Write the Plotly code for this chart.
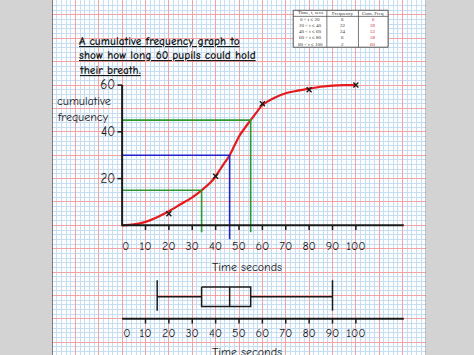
import plotly.graph_objects as go

# ---------------- data ----------------
curve_x = [0, 5, 10, 15, 20, 25, 30, 34, 38, 40, 42, 44, 46, 48, 50, 52, 55, 58, 60, 65, 70, 75, 80, 85, 90, 95, 100]
curve_y = [0, 0.4, 1.5, 3.5, 6, 9, 12, 15, 18.5, 21, 24, 27, 30, 34, 38, 41, 45, 49, 51.5, 54.5, 56.5, 57.6, 58.5, 59.3, 59.8, 60, 60]

mark_x = [20, 40, 60, 80, 100]
mark_y = [5, 21, 52, 58, 60]

lq, med, uq = 34, 46, 55
q_levels = [15, 30, 45]
box_min, box_max = 15, 90

x_ticks = [0, 10, 20, 30, 40, 50, 60, 70, 80, 90, 100]
y_ticks = [20, 40, 60]

title_lines = ["A cumulative frequency graph to",
               "show how long 60 pupils could hold",
               "their breath."]

tbl_header = ["Time, t, secs", "Frequency", "Cum. Freq"]
tbl_class = ["0 < t ≤ 20", "20 < t ≤ 40", "40 < t ≤ 60", "60 < t ≤ 80", "80 < t ≤ 100"]
tbl_freq = [6, 22, 24, 6, 2]
tbl_cum = [6, 28, 52, 58, 60]

# ---------------- styling ----------------
FONT = "Comic Sans MS, Comic Neue, Lato, sans-serif"
BLACK = "#1a1a1a"
RED = "#e41a1c"
GREEN = "#2e9a2e"
BLUE = "#2222cc"

fig = go.Figure()

# cumulative frequency curve
fig.add_trace(go.Scatter(x=curve_x, y=curve_y, mode="lines",
                         line=dict(color=RED, width=2.2, shape="spline", smoothing=0.8),
                         hoverinfo="skip"))

# quartile guide lines
colors = [GREEN, BLUE, GREEN]
qx = [lq, med, uq]
drops = [-3, -6, -3]
for xv, yv, c, d in zip(qx, q_levels, colors, drops):
    fig.add_trace(go.Scatter(x=[0, xv, xv], y=[yv, yv, d], mode="lines",
                             line=dict(color=c, width=1.6), hoverinfo="skip"))

# axes of the hand-drawn graph
fig.add_trace(go.Scatter(x=[0, 0, 120.5], y=[60, 0, 0], mode="lines",
                         line=dict(color=BLACK, width=2), hoverinfo="skip"))
for t in x_ticks[1:]:
    fig.add_trace(go.Scatter(x=[t, t], y=[0, -2], mode="lines",
                             line=dict(color=BLACK, width=1.5), hoverinfo="skip"))
for t in y_ticks:
    fig.add_trace(go.Scatter(x=[-2, 0], y=[t, t], mode="lines",
                             line=dict(color=BLACK, width=1.5), hoverinfo="skip"))

# plotted points
fig.add_trace(go.Scatter(x=mark_x, y=mark_y, mode="markers",
                         marker=dict(symbol="x-thin", size=5, line=dict(color=BLACK, width=1.4)),
                         hoverinfo="skip"))

# tick labels
fig.add_trace(go.Scatter(x=[t + (1.5 if t == 0 else 0) for t in x_ticks], y=[-9.3] * len(x_ticks),
                         mode="text", text=[str(t) for t in x_ticks],
                         textfont=dict(family=FONT, size=12, color=BLACK), hoverinfo="skip"))
fig.add_trace(go.Scatter(x=[-3] * len(y_ticks), y=[t - 0.4 for t in y_ticks], mode="text",
                         text=[str(t) for t in y_ticks], textposition="middle left",
                         textfont=dict(family=FONT, size=13, color=BLACK), hoverinfo="skip"))

# box plot
B = BLACK
cap_top, cap_bot = -23.5, -36.5
box_top, box_bot = -26.4, -34.7
mid = (box_top + box_bot) / 2
fig.add_trace(go.Scatter(x=[box_min, box_min, None, box_max, box_max, None,
                            box_min, lq, None, uq, box_max, None,
                            lq, uq, uq, lq, lq, None, med, med],
                         y=[cap_top, cap_bot, None, cap_top, cap_bot, None,
                            mid, mid, None, mid, mid, None,
                            box_top, box_top, box_bot, box_bot, box_top, None, box_top, box_bot],
                         mode="lines", line=dict(color=B, width=1.5), hoverinfo="skip"))

# lower axis
fig.add_trace(go.Scatter(x=[0, 120.5], y=[-40, -40], mode="lines",
                         line=dict(color=BLACK, width=2), hoverinfo="skip"))
for t in x_ticks[1:]:
    fig.add_trace(go.Scatter(x=[t, t], y=[-40, -42], mode="lines",
                             line=dict(color=BLACK, width=1.5), hoverinfo="skip"))
fig.add_trace(go.Scatter(x=[t + (2 if t == 0 else 0) for t in x_ticks], y=[-46.3] * len(x_ticks),
                         mode="text", text=[str(t) for t in x_ticks],
                         textfont=dict(family=FONT, size=12, color=BLACK), hoverinfo="skip"))

annotations = []
# axis titles
for yv in [-17.8, -54.0]:
    annotations.append(dict(x=53.4, y=yv, xref="x", yref="y", text="Time seconds",
                            showarrow=False, font=dict(family=FONT, size=12, color=BLACK)))
annotations.append(dict(x=-28.8, y=53, xref="x", yref="y", text="cumulative", xanchor="left",
                        showarrow=False, font=dict(family=FONT, size=12, color=BLACK)))
annotations.append(dict(x=-28.8, y=46.2, xref="x", yref="y", text="frequency", xanchor="left",
                        showarrow=False, font=dict(family=FONT, size=12, color=BLACK)))
# title
for line, yv in zip(title_lines, [78.6, 72.5, 66.3]):
    annotations.append(dict(x=-19.4, y=yv, xref="x", yref="y", text="<u><b>" + line + "</b></u>",
                            xanchor="left", showarrow=False,
                            font=dict(family=FONT, size=11.5, color=BLACK)))

# frequency table (top right)
tx0, tx1 = 73.2, 113.8
col_div = [87.6, 101.1]
ty_top, ty_head, ty_bot = 92.0, 89.4, 76.2
TF = dict(family="Liberation Serif", size=5, color="#333333")
shapes = [dict(type="rect", xref="x", yref="y", x0=tx0, x1=tx1, y0=ty_bot, y1=ty_top,
               line=dict(color="#555555", width=1), fillcolor="white", layer="above")]
for cx in col_div:
    shapes.append(dict(type="line", xref="x", yref="y", x0=cx, x1=cx, y0=ty_bot, y1=ty_top,
                       line=dict(color="#555555", width=0.8)))
shapes.append(dict(type="line", xref="x", yref="y", x0=tx0, x1=tx1, y0=ty_head, y1=ty_head,
                   line=dict(color="#555555", width=0.8)))
col_cx = [(tx0 + col_div[0]) / 2, (col_div[0] + col_div[1]) / 2, (col_div[1] + tx1) / 2]
for cx, h in zip(col_cx, tbl_header):
    annotations.append(dict(x=cx, y=(ty_top + ty_head) / 2, xref="x", yref="y", text=h,
                            showarrow=False, font=TF))
row_h = (ty_head - ty_bot) / len(tbl_class)
for i, (c, f, cf) in enumerate(zip(tbl_class, tbl_freq, tbl_cum)):
    yv = ty_head - row_h * (i + 0.5)
    annotations.append(dict(x=col_cx[0], y=yv, xref="x", yref="y", text=c, showarrow=False, font=TF))
    annotations.append(dict(x=col_cx[1], y=yv, xref="x", yref="y", text=str(f), showarrow=False, font=TF))
    annotations.append(dict(x=col_cx[2], y=yv, xref="x", yref="y", text=str(cf), showarrow=False,
                            font=dict(family="Liberation Serif", size=5, color="#d03030")))

# paper edges
shapes.append(dict(type="line", xref="x", yref="paper", x0=-30, x1=-30, y0=0, y1=1,
                   line=dict(color="#555555", width=1.5)))
shapes.append(dict(type="line", xref="x", yref="paper", x0=130, x1=130, y0=0, y1=1,
                   line=dict(color="#888888", width=1)))

fig.update_layout(
    width=474, height=355,
    margin=dict(l=52, r=48, t=0, b=0),
    paper_bgcolor="#d3d3d3",
    plot_bgcolor="#fbfdff",
    showlegend=False,
    annotations=annotations,
    shapes=shapes,
    xaxis=dict(range=[-30, 130], dtick=10, tick0=0, showgrid=True, gridcolor="#f3a3a3", gridwidth=1,
               minor=dict(dtick=2, showgrid=True, gridcolor="#c6def0", gridwidth=1),
               showticklabels=False, zeroline=False, ticks="", fixedrange=True, layer="below traces"),
    yaxis=dict(range=[-55.47, 96.4], dtick=10, tick0=0, showgrid=True, gridcolor="#f3a3a3", gridwidth=1,
               minor=dict(dtick=2, showgrid=True, gridcolor="#c6def0", gridwidth=1),
               showticklabels=False, zeroline=False, ticks="", fixedrange=True),
)

fig.write_html("out.html", config={"displayModeBar": False},
               post_script="document.body.style.margin='0';document.body.style.padding='0';"
                           "document.body.style.overflow='hidden';")
